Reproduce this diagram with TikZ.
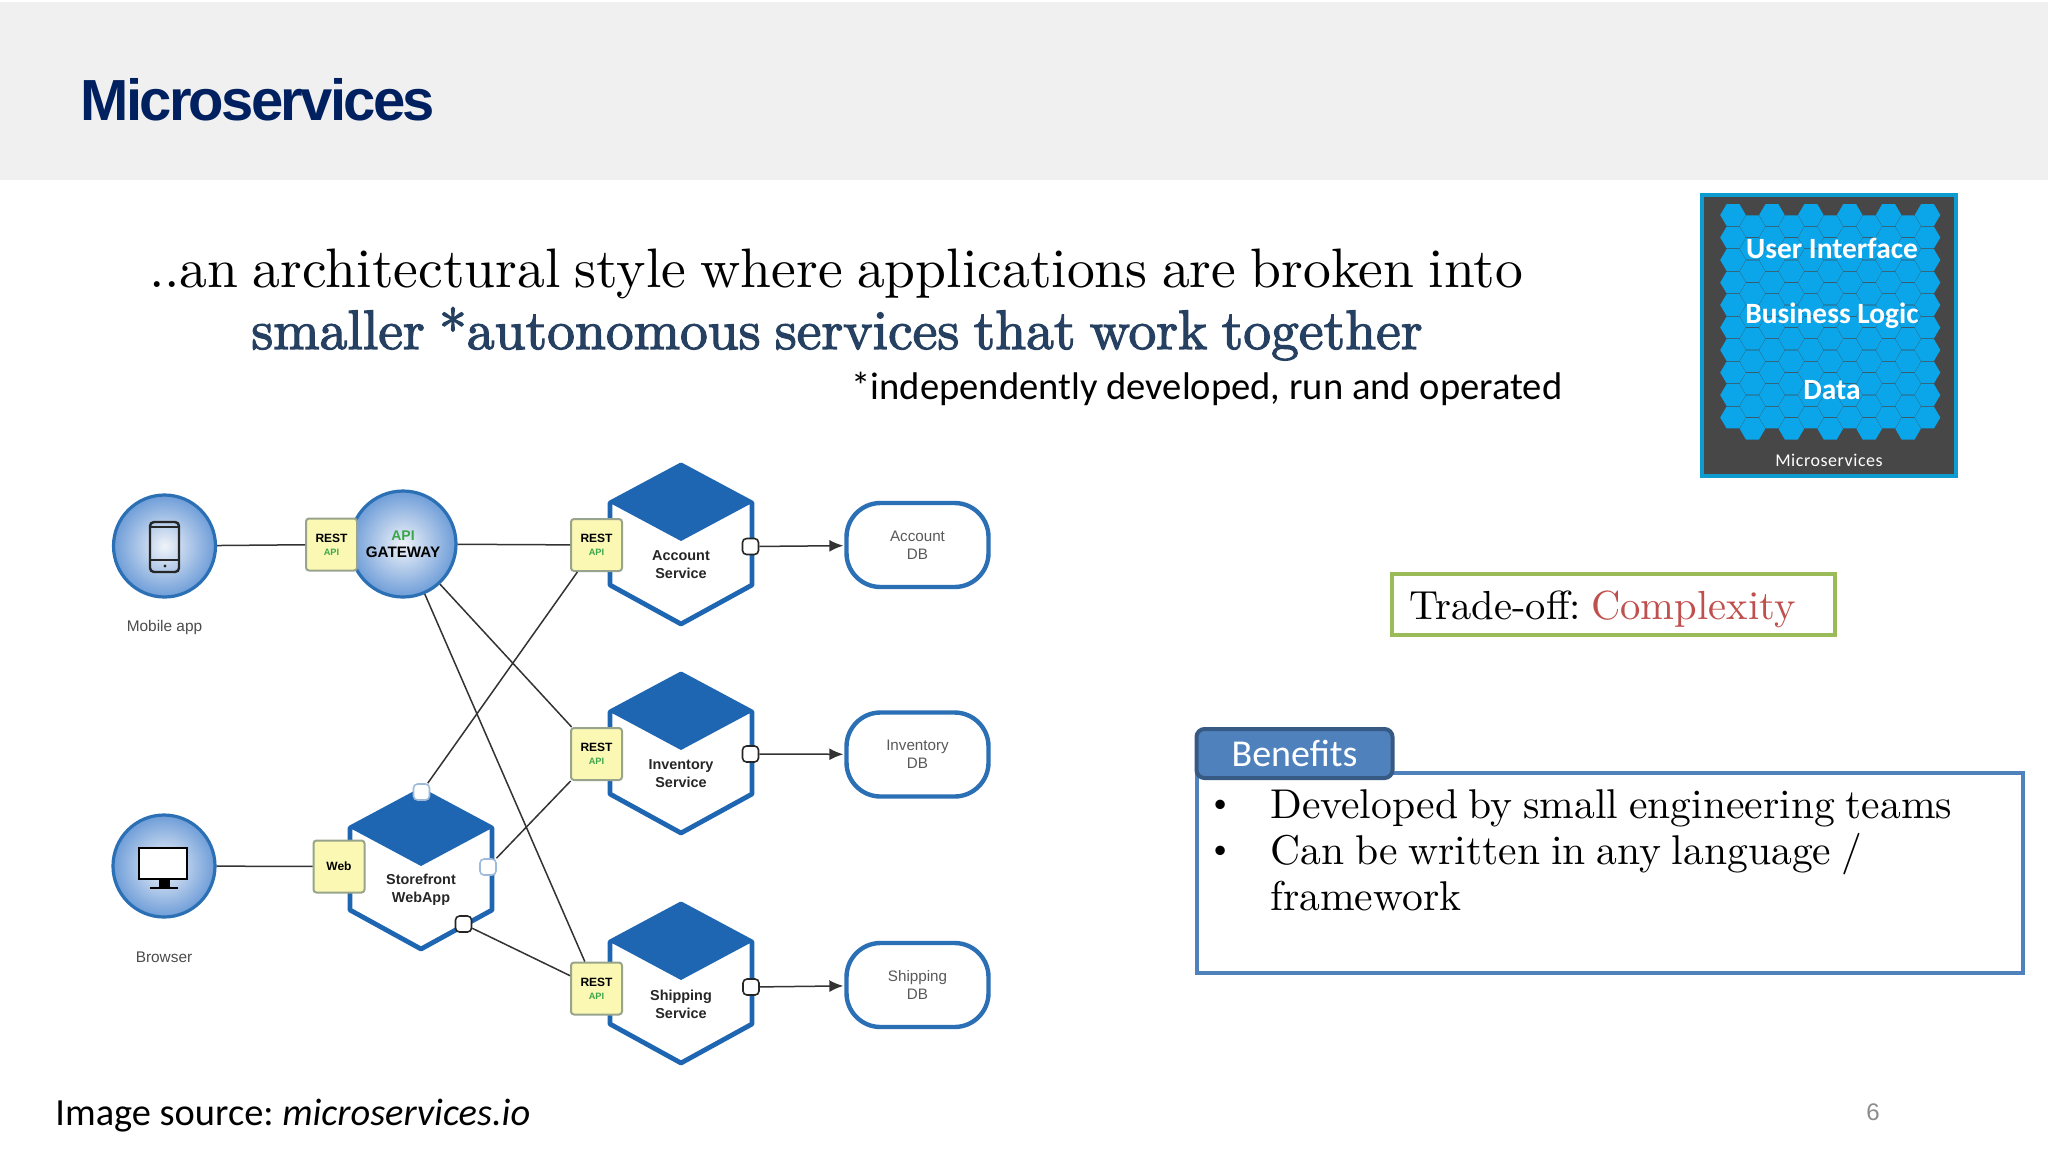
\documentclass[tikz,border=0pt]{standalone}
\usepackage{fontspec}
\usetikzlibrary{positioning,arrows.meta}
\setmainfont{lmroman10-regular}[Extension=.otf,ItalicFont=lmroman10-italic,BoldFont=lmroman10-bold,WordSpace=0.77]
\newfontfamily\arialfont{Liberation Sans}
\newfontfamily\calibfont{Carlito}
\newfontfamily\heavyfont{lmroman10-regular}[Extension=.otf,FakeBold=2.2,WordSpace=0.77]
\definecolor{hexblue}{HTML}{1F66B2}
\definecolor{ringblue}{HTML}{2B6FB5}
\definecolor{restfill}{HTML}{FBF8B4}
\definecolor{restedge}{HTML}{98A58C}
\definecolor{apigreen}{HTML}{3BA64A}
\definecolor{cellblue}{HTML}{0BA5EA}
\definecolor{thumbedge}{HTML}{0E9BD0}
\definecolor{boxblue}{HTML}{4F81BD}
\definecolor{navytitle}{HTML}{002060}
\definecolor{slateblue}{HTML}{254061}
\definecolor{leafgreen}{HTML}{9BBB59}
\definecolor{softred}{HTML}{C0504D}
\definecolor{clientin}{HTML}{F0F3F9}
\definecolor{clientout}{HTML}{6E9DD8}

\begin{document}
\frenchspacing
\begin{tikzpicture}[
    x=0.5pt, y=-0.5pt,
    title/.style={font=\arialfont\bfseries\fontsize{29pt}{30pt}\selectfont\addfontfeature{LetterSpace=-4.6},
      text=navytitle, anchor=base west, inner sep=0pt},
    client/.style={circle, draw=ringblue, line width=1.6pt, minimum size=51pt, inner sep=0pt,
      inner color=clientin, outer color=clientout},
    rest/.style={draw=restedge, fill=restfill, line width=1pt, rounded corners=1.5pt,
      minimum width=25.5pt, minimum height=26pt, inner sep=0pt, align=center,
      font=\arialfont\bfseries\fontsize{6pt}{7pt}\selectfont},
    port/.style={draw=black!85, fill=white, line width=0.8pt, rounded corners=2pt,
      minimum width=8pt, minimum height=8pt, inner sep=0pt},
    paleport/.style={port, draw=boxblue!55!white},
    db/.style={draw=ringblue, fill=white, line width=2.2pt, rounded corners=17pt,
      minimum width=71pt, minimum height=42pt, inner sep=0pt, align=center, text=black!65,
      font=\arialfont\fontsize{7.6pt}{9pt}\selectfont},
    caption/.style={text=black!70, inner sep=0pt, font=\arialfont\fontsize{7.7pt}{9pt}\selectfont},
    link/.style={draw=black!80, line width=0.75pt},
    svctext/.style={align=center, inner sep=0pt, text=black!85,
      font=\arialfont\bfseries\fontsize{7.2pt}{9pt}\selectfont},
    service/.pic={
      \draw[draw=hexblue, fill=white, line width=2.4pt, line join=round]
        (0,0) -- (71,38) -- (71,120) -- (0,159) -- (-71,120) -- (-71,38) -- cycle;
      \fill[hexblue] (0,0) -- (71,38) -- (0,76) -- (-71,38) -- cycle;
      \node[svctext] (-label) at (0,100) {#1};
    },
    serif/.style={inner sep=0pt, anchor=base},
    thumbtext/.style={text=white, inner sep=0pt,
      font=\calibfont\bfseries\fontsize{14.7pt}{17pt}\selectfont},
    bulletline/.style={inner sep=0pt, anchor=base west, align=left,
      font=\fontsize{20.8pt}{23pt}\selectfont},
    bulletdot/.style={inner sep=0pt, anchor=base west, font=\fontsize{16.5pt}{18pt}\selectfont}]

    \useasboundingbox (0,0) rectangle (2048,1152);
    \fill[white] (0,0) rectangle (2048,1152);
    \fill[black!6] (0,2) rectangle (2048,180);
    \node[title] (heading) at (80,120.5) {Microservices};

    \node[serif, font=\fontsize{27.8pt}{30pt}\selectfont] (line1) at (836,287)
      {..an architectural style where applications are broken into};
    \node[serif, text=slateblue, font=\heavyfont\fontsize{27.8pt}{30pt}\selectfont] (line2) at (837,349)
      {smaller *autonomous services that work together};
    \node[inner sep=0pt, anchor=base, font=\calibfont\fontsize{19.3pt}{22pt}\selectfont] (line3) at (1207,399)
      {*independently developed, run and operated};

    % thumbnail
    \draw[draw=thumbedge, fill=black!72, line width=2pt] (1702,195) rectangle (1956,476);
    \foreach \col in {0,...,10}{
      \pgfmathsetmacro{\cx}{1733+19.45*\col}
      \pgfmathsetmacro{\cy}{215+11.25*mod(\col,2)}
      \foreach \row in {0,...,9}{
        \fill[cellblue] (\cx,\cy+22.5*\row) ++(12.8,0) -- ++(-6.4,10.95) -- ++(-12.8,0)
          -- ++(-6.4,-10.95) -- ++(6.4,-10.95) -- ++(12.8,0) -- cycle;
      }
    }
    \node[thumbtext] (ui) at (1832,248) {User Interface};
    \node[thumbtext] (logic) at (1832,316) {Business Logic};
    \node[thumbtext] (data) at (1832,390) {Data};
    \node[text=white, inner sep=0pt, font=\calibfont\fontsize{9pt}{11pt}\selectfont\addfontfeature{LetterSpace=3}] (micro) at (1829,460) {Microservices};

    % services
    \pic (account) at (681,465) {service={Account\\Service}};
    \pic (inventory) at (681,674) {service={Inventory\\Service}};
    \pic (shipping) at (681,904) {service={Shipping\\Service}};
    \pic (storefront) at (421,790) {service={Storefront\\WebApp}};

    \node[client] (mobile) at (164.5,546) {};
    \node[client] (browser) at (164,866) {};
    \node[client, minimum size=53pt, align=center, font=\arialfont\bfseries\fontsize{7.6pt}{9pt}\selectfont] (gateway) at (403,544)
      {\textcolor{apigreen}{\fontsize{7pt}{9pt}\selectfont API}\\[-0.5pt]GATEWAY};
    \node[caption, below=10.5pt of mobile] (mobilecap) {Mobile app};
    \node[caption, below=16.5pt of browser] (browsercap) {Browser};

    % icons
    \draw[draw=black!85, line width=1.2pt, rounded corners=2pt] (150,522) rectangle (179,572);
    \draw[draw=black!85, line width=0.6pt] (150,527) -- (179,527) (150,560) -- (179,560);
    \fill[black!85] (165,566) circle (1.6);
    \draw[draw=black, fill=white, line width=1.2pt] (139,848) rectangle (187,879);
    \fill[black] (159,879) rectangle (170,888);
    \fill[black] (150,887) rectangle (178,889);

    \node[rest] (restgate) at (331.5,544.5) {REST\\[-0.5pt]\textcolor{apigreen}{\fontsize{4.6pt}{6pt}\selectfont API}};
    \node[rest] (restacct) at (596.5,545) {REST\\[-0.5pt]\textcolor{apigreen}{\fontsize{4.6pt}{6pt}\selectfont API}};
    \node[rest] (restinv) at (596.5,754) {REST\\[-0.5pt]\textcolor{apigreen}{\fontsize{4.6pt}{6pt}\selectfont API}};
    \node[rest] (restship) at (596.5,988.5) {REST\\[-0.5pt]\textcolor{apigreen}{\fontsize{4.6pt}{6pt}\selectfont API}};
    \node[rest] (web) at (339,866.5) {Web};

    \node[port] (acctport) at (750.5,546.5) {};
    \node[port] (invport) at (750.5,754) {};
    \node[port] (shipport) at (751,987) {};
    \node[paleport] (storetop) at (421.5,792) {};
    \node[paleport] (storeright) at (488,867) {};
    \node[port] (storebottom) at (463.5,924) {};

    \node[db] (acctdb) at (917.5,545) {Account\\DB};
    \node[db] (invdb) at (917.5,754.5) {Inventory\\DB};
    \node[db] (shipdb) at (917.5,985) {Shipping\\DB};

    \draw[link] (mobile) -- (restgate);
    \draw[link] (browser) -- (web);
    \draw[link] (gateway) -- (restacct);
    \draw[link] (gateway) -- (restinv);
    \draw[link] (gateway) -- (restship);
    \draw[link] (storetop) -- (restacct);
    \draw[link] (storeright) -- (restinv);
    \draw[link] (storebottom) -- (restship);
    \draw[link, -{Latex[length=7pt,width=6pt]}, shorten >=0.5pt] (acctport) -- (acctdb);
    \draw[link, -{Latex[length=7pt,width=6pt]}, shorten >=0.5pt] (invport) -- (invdb);
    \draw[link, -{Latex[length=7pt,width=6pt]}, shorten >=0.5pt] (shipport) -- (shipdb);

    % right hand boxes
    \draw[draw=leafgreen, line width=2pt] (1392,574) rectangle (1835,635);
    \node[inner sep=0pt, anchor=base west, font=\fontsize{20.3pt}{24pt}\selectfont] (tradeoff) at (1409,619)
      {Trade-off: \textcolor{softred}{Complexity}};

    \draw[draw=boxblue, line width=2pt] (1197,773) rectangle (2023,973);
    \node[draw=boxblue!70!black, fill=boxblue, line width=2pt, rounded corners=4pt, text=white,
      minimum width=98pt, minimum height=24.5pt, inner sep=0pt,
      font=\calibfont\fontsize{19pt}{20pt}\selectfont] (benefits) at (1294.5,753.5) {Benefits};
    \node[bulletdot] (bullet1) at (1207,812) {\textbullet};
    \node[bulletdot] (bullet2) at (1207,858) {\textbullet};
    \node[bulletline] (benefit1) at (1270,818) {Developed by small engineering teams};
    \node[bulletline] (benefit2) at (1270,864) {Can be written in any language /};
    \node[bulletline] (benefit3) at (1270,910) {framework};

    \node[inner sep=0pt, anchor=base west, font=\calibfont\fontsize{19.2pt}{20pt}\selectfont] (source) at (55,1125)
      {Image source: \textit{microservices.io}};
    \node[text=black!45, inner sep=0pt, font=\arialfont\fontsize{12pt}{14pt}\selectfont] (pagenum) at (1873,1112) {6};
\end{tikzpicture}
\end{document}
